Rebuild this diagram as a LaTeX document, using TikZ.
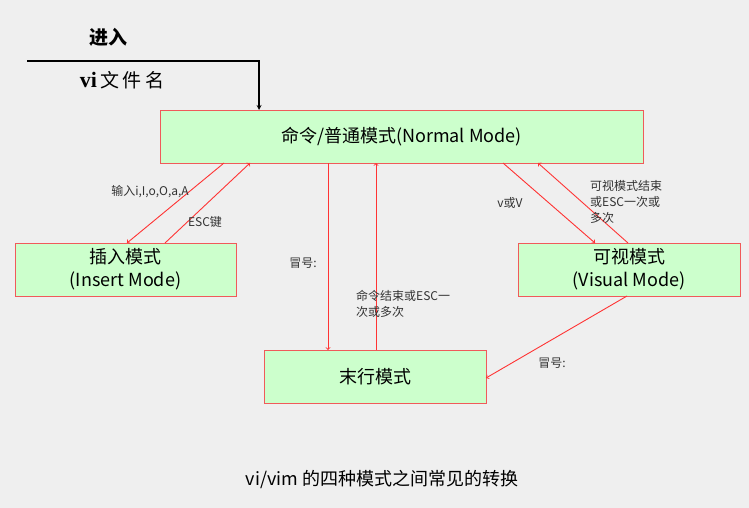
\documentclass[tikz,border=0pt]{standalone}
\usepackage{fontspec}
\setmainfont{Liberation Sans}
\newfontfamily\cjk{Noto Sans CJK SC}
\newfontfamily\cjkserif{Liberation Serif}
\usetikzlibrary{positioning}
\definecolor{boxfill}{RGB}{204,255,204}
\definecolor{boxline}{RGB}{240,90,90}
\definecolor{bg}{RGB}{239,239,239}

\begin{document}
\begin{tikzpicture}[x=1pt, y=-1pt,
    modebox/.style={rectangle, draw=boxline, fill=boxfill, line width=1pt, align=center, inner sep=0pt, font=\cjk\fontsize{18}{23}\selectfont},
    redarrow/.style={->, draw=red!80, line width=0.9pt},
    tag/.style={font=\cjk\fontsize{12}{16}\selectfont, align=left, text=black!80, inner sep=0pt}]
    \fill [bg] (0,0) rectangle (749,508);
    \useasboundingbox (0,0) rectangle (749,508);

    \node [modebox, minimum width=483pt, minimum height=53pt] (normal) at (401.5,137) {命令/普通模式(Normal Mode)};
    \node [modebox, minimum width=221pt, minimum height=53pt] (insert) at (125.5,269.5) {插入模式\\(Insert Mode)};
    \node [modebox, minimum width=222pt, minimum height=53pt] (visual) at (629,269.5) {可视模式\\(Visual Mode)};
    \node [modebox, minimum width=222pt, minimum height=53pt] (lastline) at (375,376.5) {末行模式};

    \node [font=\cjk\bfseries\fontsize{19}{22}\selectfont] (enter) at (108,37) {进入};
    \node [font=\fontsize{22}{24}\selectfont] (vifile) at (122,80) {{\cjkserif\bfseries vi}\,{\cjk\fontsize{19}{22}\selectfont 文\,件\,名}};
    \coordinate (start) at (27,61);
    \coordinate (corner) at (259,61);
    \draw [->, >=stealth, line width=1.2pt] (start) -- (corner) -- (corner |- normal.north);

    \draw [redarrow] (224,163) -- (127,243);
    \draw [redarrow] (165,243) -- (250,163);
    \draw [redarrow] (328,163) -- (328,350);
    \draw [redarrow] (376,350) -- (376,163);
    \draw [redarrow] (503,163) -- (595,243);
    \draw [redarrow] (628,243) -- (538,163);
    \draw [redarrow] (627,296) -- (486,378);

    \node [tag] (lblinsert) at (150,192) {输入i,I,o,O,a,A};
    \node [tag] (lblesc) at (205,222) {ESC键};
    \node [tag] (lblcolon) at (303,263) {冒号:};
    \node [tag, anchor=west] (lblcmd) at (356,304) {命令结束或ESC一\\次或多次};
    \node [tag] (lblv) at (510,203) {v或V};
    \node [tag, anchor=west] (lblvisend) at (590,202) {可视模式结束\\或ESC一次或\\多次};
    \node [tag] (lblcolon2) at (552,363) {冒号:};

    \node [font=\cjk\fontsize{18}{22}\selectfont] (caption) at (382,480) {vi/vim 的四种模式之间常见的转换};
\end{tikzpicture}
\end{document}
